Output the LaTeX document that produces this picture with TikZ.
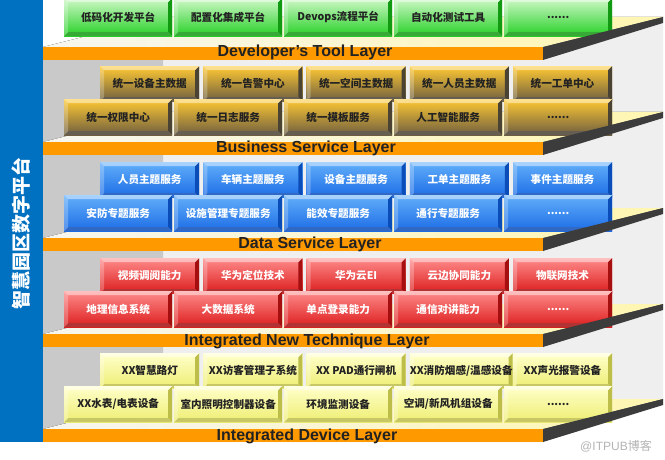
\documentclass[tikz,border=0pt]{standalone}
\usepackage{fontspec}
\setmainfont{Liberation Sans}
\newfontfamily\cjk{Noto Sans CJK SC}
\usepackage{tikz}
\usetikzlibrary{calc}
\definecolor{barblue}{HTML}{0070C0}
\definecolor{band}{HTML}{FF9900}
\definecolor{side}{HTML}{3C3C3C}
\definecolor{wall}{HTML}{EFEFEF}
\definecolor{wallL}{HTML}{C9C9C9}
\definecolor{faceL}{HTML}{F6F6F0}
\definecolor{faceR}{HTML}{FFF6B0}
\definecolor{ink}{HTML}{222222}
\definecolor{wm}{HTML}{B4B4B4}
\definecolor{gtop}{HTML}{CFF8C8}
\definecolor{gbot}{HTML}{26D026}
\definecolor{gedge}{HTML}{139A13}
\definecolor{otop}{HTML}{FFC933}
\definecolor{obot}{HTML}{6E5E40}
\definecolor{oedge}{HTML}{4A4232}
\definecolor{btop}{HTML}{62AFFA}
\definecolor{bbot}{HTML}{1C6CE6}
\definecolor{bedge}{HTML}{0B4DB8}
\definecolor{rtop}{HTML}{FF8C8C}
\definecolor{rbot}{HTML}{DC1C1C}
\definecolor{redge}{HTML}{A50F0F}
\definecolor{ytop}{HTML}{FFFFCC}
\definecolor{ybot}{HTML}{EEEE72}
\definecolor{yedge}{HTML}{BDBD4A}
\tikzset{
  btn/.style n args={3}{draw=none,inner sep=0pt,anchor=north west,align=center,
    top color=#1,bottom color=#2,font=\cjk\bfseries\fontsize{10.6}{12}\selectfont,
    path picture={
      \fill[#3] ([shift={(-4pt,-4pt)}]path picture bounding box.north east) -- (path picture bounding box.north east)
        -- (path picture bounding box.south east) -- ([shift={(-4pt,4pt)}]path picture bounding box.south east) -- cycle;
      \fill[#3!85!white] ([shift={(4pt,4pt)}]path picture bounding box.south west) -- (path picture bounding box.south west)
        -- (path picture bounding box.south east) -- ([shift={(-4pt,4pt)}]path picture bounding box.south east) -- cycle;
      \fill[white,opacity=.45] (path picture bounding box.north west) -- (path picture bounding box.north east)
        -- ([shift={(-4pt,-4pt)}]path picture bounding box.north east) -- ([shift={(4pt,-4pt)}]path picture bounding box.north west) -- cycle;
      \fill[white,opacity=.25] (path picture bounding box.north west) -- ([shift={(4pt,-4pt)}]path picture bounding box.north west)
        -- ([shift={(4pt,4pt)}]path picture bounding box.south west) -- (path picture bounding box.south west) -- cycle;
    }},
  frow/.style={minimum width=108pt,minimum height=36pt},
  brow/.style={minimum width=99pt,minimum height=35pt},
  gbtn/.style={btn={gtop}{gbot}{gedge},text=ink},
  obtn/.style={btn={otop}{obot}{oedge},text=ink},
  bbtn/.style={btn={btop}{bbot}{bedge},text=white},
  rbtn/.style={btn={rtop}{rbot}{redge},text=white},
  ybtn/.style={btn={ytop}{ybot}{yedge},text=ink},
  face/.style={left color=faceL,right color=faceR},
  lay/.style={anchor=base,text=ink,font=\bfseries\fontsize{16}{18}\selectfont},
}
\begin{document}
\begin{tikzpicture}[x=1pt,y=-1pt]
\useasboundingbox (0,0) rectangle (665,460);
\fill[white] (0,0) rectangle (665,460);
% back wall and left blue bar
\fill[wall] (43,60) -- (543,60) -- (663,23) -- (663,405) -- (543,442) -- (43,442) -- cycle;
\fill[barblue] (0,0) rectangle (43,442);
\node[rotate=90,text=white,font=\cjk\bfseries\fontsize{19}{20}\selectfont] (title) at (21,233) {智慧园区数字平台};
\fill[wallL] (43,60) -- (163,60) -- (163,112) -- (43,142) -- cycle;
\fill[wallL] (43,155) -- (163,155) -- (163,208) -- (43,238) -- cycle;
\fill[wallL] (43,251) -- (163,251) -- (163,304) -- (43,334) -- cycle;
\fill[wallL] (43,347) -- (163,347) -- (163,399) -- (43,429) -- cycle;
% top faces
\fill[face] (43,47) -- (543,47) -- (663,17) -- (163,17) -- cycle;
\fill[face] (43,142) -- (543,142) -- (663,112) -- (163,112) -- cycle;
\fill[face] (43,238) -- (543,238) -- (663,208) -- (163,208) -- cycle;
\fill[face] (43,334) -- (543,334) -- (663,304) -- (163,304) -- cycle;
\fill[face] (43,429) -- (543,429) -- (663,399) -- (163,399) -- cycle;

% Developer's Tool Layer
\node[gbtn,frow,minimum height=38pt] (dev1) at (64,-2) {低码化开发平台};
\node[gbtn,frow,minimum height=38pt] (dev2) at (174,-2) {配置化集成平台};
\node[gbtn,frow,minimum height=38pt] (dev3) at (284,-2) {Devops流程平台};
\node[gbtn,frow,minimum height=38pt] (dev4) at (394,-2) {自动化测试工具};
\node[gbtn,frow,minimum height=38pt] (dev5) at (504,-2) {......};

% Business Service Layer
\node[obtn,brow] (bizb1) at (100,66) {统一设备主数据};
\node[obtn,brow] (bizb2) at (203.2,66) {统一告警中心};
\node[obtn,brow] (bizb3) at (306.4,66) {统一空间主数据};
\node[obtn,brow] (bizb4) at (409.6,66) {统一人员主数据};
\node[obtn,brow] (bizb5) at (512.8,66) {统一工单中心};
\node[obtn,frow] (bizf1) at (64,99) {统一权限中心};
\node[obtn,frow] (bizf2) at (174,99) {统一日志服务};
\node[obtn,frow] (bizf3) at (284,99) {统一模板服务};
\node[obtn,frow] (bizf4) at (394,99) {人工智能服务};
\node[obtn,frow] (bizf5) at (504,99) {......};

% Data Service Layer
\node[bbtn,brow] (datb1) at (100,162) {人员主题服务};
\node[bbtn,brow] (datb2) at (203.2,162) {车辆主题服务};
\node[bbtn,brow] (datb3) at (306.4,162) {设备主题服务};
\node[bbtn,brow] (datb4) at (409.6,162) {工单主题服务};
\node[bbtn,brow] (datb5) at (512.8,162) {事件主题服务};
\node[bbtn,frow] (datf1) at (64,195) {安防专题服务};
\node[bbtn,frow] (datf2) at (174,195) {设施管理专题服务};
\node[bbtn,frow] (datf3) at (284,195) {能效专题服务};
\node[bbtn,frow] (datf4) at (394,195) {通行专题服务};
\node[bbtn,frow] (datf5) at (504,195) {......};

% Integrated New Technique Layer
\node[rbtn,brow] (tecb1) at (100,258) {视频调阅能力};
\node[rbtn,brow] (tecb2) at (203.2,258) {华为定位技术};
\node[rbtn,brow] (tecb3) at (306.4,258) {华为云EI};
\node[rbtn,brow] (tecb4) at (409.6,258) {云边协同能力};
\node[rbtn,brow] (tecb5) at (512.8,258) {物联网技术};
\node[rbtn,frow] (tecf1) at (64,291) {地理信息系统};
\node[rbtn,frow] (tecf2) at (174,291) {大数据系统};
\node[rbtn,frow] (tecf3) at (284,291) {单点登录能力};
\node[rbtn,frow] (tecf4) at (394,291) {通信对讲能力};
\node[rbtn,frow] (tecf5) at (504,291) {......};

% Integrated Device Layer
\node[ybtn,brow] (devb1) at (100,353) {XX智慧路灯};
\node[ybtn,brow] (devb2) at (203.2,353) {XX访客管理子系统};
\node[ybtn,brow] (devb3) at (306.4,353) {XX PAD通行闸机};
\node[ybtn,brow] (devb4) at (409.6,353) {XX消防烟感/温感设备};
\node[ybtn,brow] (devb5) at (512.8,353) {XX声光报警设备};
\node[ybtn,frow] (devf1) at (64,386) {XX水表/电表设备};
\node[ybtn,frow] (devf2) at (174,386) {室内照明控制器设备};
\node[ybtn,frow] (devf3) at (284,386) {环境监测设备};
\node[ybtn,frow] (devf4) at (394,386) {空调/新风机组设备};
\node[ybtn,frow] (devf5) at (504,386) {......};

% slab fronts and sides
\fill[band] (43,47) rectangle (543,60);
\fill[band] (43,142) rectangle (543,155);
\fill[band] (43,238) rectangle (543,251);
\fill[band] (43,334) rectangle (543,347);
\fill[band] (43,429) rectangle (543,442);
\fill[side] (543,47) -- (663,17) -- (663,23) -- (543,60) -- cycle;
\fill[side] (543,142) -- (663,112) -- (663,118) -- (543,155) -- cycle;
\fill[side] (543,238) -- (663,208) -- (663,214) -- (543,251) -- cycle;
\fill[side] (543,334) -- (663,304) -- (663,310) -- (543,347) -- cycle;
\fill[side] (543,429) -- (663,399) -- (663,405) -- (543,442) -- cycle;
\node[lay] (devlab) at (305,57) {Developer’s Tool Layer};
\node[lay] (bizlab) at (306,153) {Business Service Layer};
\node[lay] (datlab) at (310,248) {Data Service Layer};
\node[lay] (teclab) at (307,345) {Integrated New Technique Layer};
\node[lay] (hwlab) at (307,440) {Integrated Device Layer};
\node[text=wm,font=\fontsize{12}{14}\selectfont] (wmark) at (616,446) {@ITPUB{\cjk 博客}};
\end{tikzpicture}
\end{document}
